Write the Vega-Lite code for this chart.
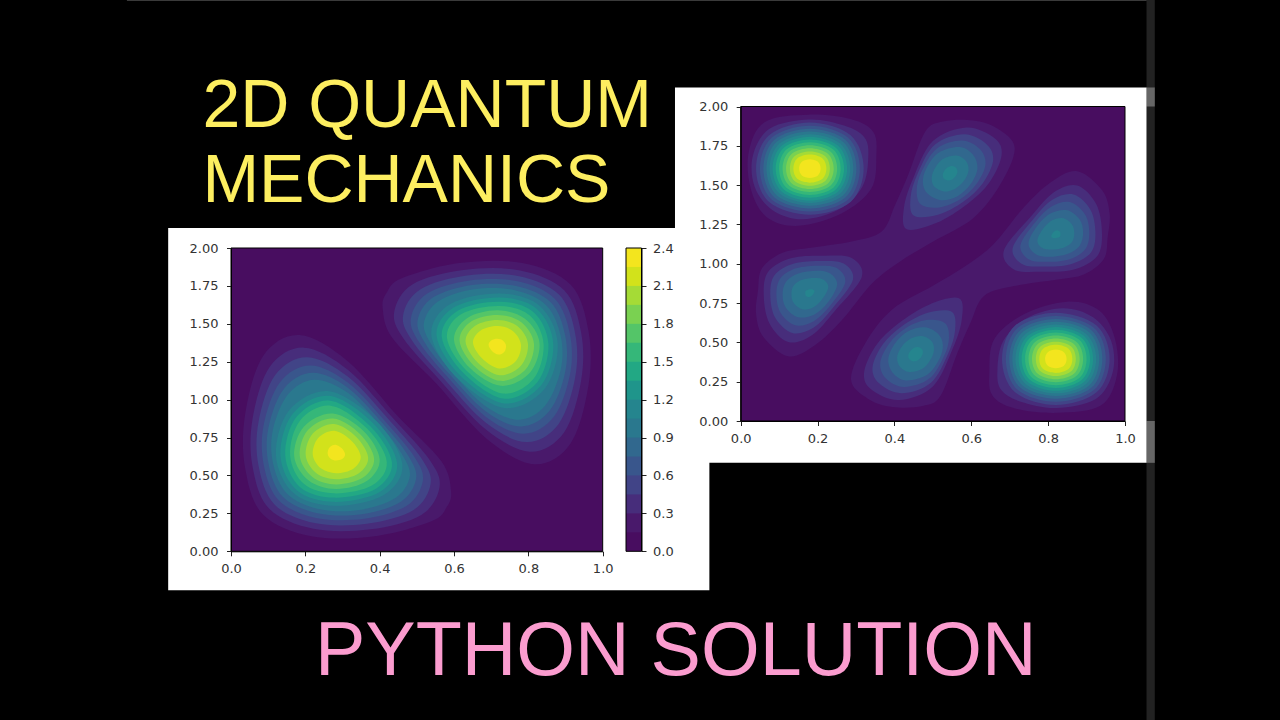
{"$schema":"https://vega.github.io/schema/vega-lite/v6.json","width":1280,"height":720,"autosize":"none","padding":0,"background":"#000",
"config":{"view":{"stroke":null},"axis":{"labelFont":"DejaVu Sans","labelFontSize":13,"labelColor":"#333","tickColor":"#222","domainColor":"#000","tickSize":4.5,"labelFlush":false,"labelOverlap":false,"grid":false,"title":null}},
"resolve":{"scale":{"x":"independent","y":"independent"},"axis":{"x":"independent","y":"independent"}},
"datasets":{
"colorbar":[{"x0":0,"x1":1,"lo":0,"hi":0.16,"l":0},{"x0":0,"x1":1,"lo":0.15,"hi":0.31,"l":1},{"x0":0,"x1":1,"lo":0.3,"hi":0.46,"l":2},{"x0":0,"x1":1,"lo":0.45,"hi":0.61,"l":3},{"x0":0,"x1":1,"lo":0.6,"hi":0.76,"l":4},{"x0":0,"x1":1,"lo":0.75,"hi":0.91,"l":5},{"x0":0,"x1":1,"lo":0.9,"hi":1.06,"l":6},{"x0":0,"x1":1,"lo":1.05,"hi":1.21,"l":7},{"x0":0,"x1":1,"lo":1.2,"hi":1.36,"l":8},{"x0":0,"x1":1,"lo":1.35,"hi":1.51,"l":9},{"x0":0,"x1":1,"lo":1.5,"hi":1.66,"l":10},{"x0":0,"x1":1,"lo":1.65,"hi":1.81,"l":11},{"x0":0,"x1":1,"lo":1.8,"hi":1.96,"l":12},{"x0":0,"x1":1,"lo":1.95,"hi":2.11,"l":13},{"x0":0,"x1":1,"lo":2.1,"hi":2.26,"l":14},{"x0":0,"x1":1,"lo":2.25,"hi":2.4,"l":15}],
"left":[
{"c":1,"l":1,"x":0.592,"y":0.396},{"c":1,"l":1,"x":0.566,"y":0.594},{"c":1,"l":1,"x":0.449,"y":0.891},{"c":1,"l":1,"x":0.314,"y":1.254},{"c":1,"l":1,"x":0.184,"y":1.426},{"c":1,"l":1,"x":0.086,"y":1.287},{"c":1,"l":1,"x":0.038,"y":0.902},{"c":1,"l":1,"x":0.038,"y":0.55},{"c":1,"l":1,"x":0.086,"y":0.242},{"c":1,"l":1,"x":0.216,"y":0.099},{"c":1,"l":1,"x":0.386,"y":0.099},{"c":1,"l":1,"x":0.539,"y":0.198},{"c":1,"l":1,"x":0.58,"y":0.29},
{"c":2,"l":2,"x":0.561,"y":0.424},{"c":2,"l":2,"x":0.535,"y":0.6},{"c":2,"l":2,"x":0.438,"y":0.872},{"c":2,"l":2,"x":0.315,"y":1.196},{"c":2,"l":2,"x":0.196,"y":1.343},{"c":2,"l":2,"x":0.104,"y":1.216},{"c":2,"l":2,"x":0.058,"y":0.874},{"c":2,"l":2,"x":0.058,"y":0.558},{"c":2,"l":2,"x":0.103,"y":0.28},{"c":2,"l":2,"x":0.222,"y":0.148},{"c":2,"l":2,"x":0.375,"y":0.145},{"c":2,"l":2,"x":0.512,"y":0.24},
{"c":3,"l":3,"x":0.537,"y":0.445},{"c":3,"l":3,"x":0.513,"y":0.61},{"c":3,"l":3,"x":0.429,"y":0.856},{"c":3,"l":3,"x":0.315,"y":1.151},{"c":3,"l":3,"x":0.205,"y":1.28},{"c":3,"l":3,"x":0.119,"y":1.162},{"c":3,"l":3,"x":0.074,"y":0.853},{"c":3,"l":3,"x":0.074,"y":0.565},{"c":3,"l":3,"x":0.117,"y":0.309},{"c":3,"l":3,"x":0.225,"y":0.186},{"c":3,"l":3,"x":0.365,"y":0.182},{"c":3,"l":3,"x":0.491,"y":0.273},
{"c":4,"l":4,"x":0.516,"y":0.464},{"c":4,"l":4,"x":0.494,"y":0.62},{"c":4,"l":4,"x":0.42,"y":0.843},{"c":4,"l":4,"x":0.315,"y":1.112},{"c":4,"l":4,"x":0.213,"y":1.225},{"c":4,"l":4,"x":0.132,"y":1.115},{"c":4,"l":4,"x":0.088,"y":0.834},{"c":4,"l":4,"x":0.088,"y":0.571},{"c":4,"l":4,"x":0.129,"y":0.335},{"c":4,"l":4,"x":0.229,"y":0.22},{"c":4,"l":4,"x":0.358,"y":0.214},{"c":4,"l":4,"x":0.473,"y":0.301},
{"c":5,"l":5,"x":0.498,"y":0.48},{"c":5,"l":5,"x":0.477,"y":0.63},{"c":5,"l":5,"x":0.413,"y":0.83},{"c":5,"l":5,"x":0.315,"y":1.077},{"c":5,"l":5,"x":0.22,"y":1.177},{"c":5,"l":5,"x":0.143,"y":1.074},{"c":5,"l":5,"x":0.101,"y":0.818},{"c":5,"l":5,"x":0.101,"y":0.576},{"c":5,"l":5,"x":0.14,"y":0.358},{"c":5,"l":5,"x":0.233,"y":0.251},{"c":5,"l":5,"x":0.351,"y":0.244},{"c":5,"l":5,"x":0.457,"y":0.327},
{"c":6,"l":6,"x":0.481,"y":0.495},{"c":6,"l":6,"x":0.46,"y":0.64},{"c":6,"l":6,"x":0.406,"y":0.818},{"c":6,"l":6,"x":0.315,"y":1.044},{"c":6,"l":6,"x":0.225,"y":1.132},{"c":6,"l":6,"x":0.154,"y":1.037},{"c":6,"l":6,"x":0.113,"y":0.803},{"c":6,"l":6,"x":0.113,"y":0.581},{"c":6,"l":6,"x":0.151,"y":0.38},{"c":6,"l":6,"x":0.236,"y":0.279},{"c":6,"l":6,"x":0.345,"y":0.272},{"c":6,"l":6,"x":0.442,"y":0.351},
{"c":7,"l":7,"x":0.461,"y":0.573},{"c":7,"l":7,"x":0.391,"y":0.859},{"c":7,"l":7,"x":0.264,"y":1.055},{"c":7,"l":7,"x":0.156,"y":0.928},{"c":7,"l":7,"x":0.121,"y":0.63},{"c":7,"l":7,"x":0.169,"y":0.382},{"c":7,"l":7,"x":0.277,"y":0.3},{"c":7,"l":7,"x":0.41,"y":0.37},
{"c":8,"l":8,"x":0.447,"y":0.579},{"c":8,"l":8,"x":0.383,"y":0.843},{"c":8,"l":8,"x":0.265,"y":1.025},{"c":8,"l":8,"x":0.166,"y":0.907},{"c":8,"l":8,"x":0.133,"y":0.631},{"c":8,"l":8,"x":0.177,"y":0.402},{"c":8,"l":8,"x":0.277,"y":0.326},{"c":8,"l":8,"x":0.4,"y":0.391},
{"c":9,"l":9,"x":0.433,"y":0.585},{"c":9,"l":9,"x":0.374,"y":0.826},{"c":9,"l":9,"x":0.267,"y":0.993},{"c":9,"l":9,"x":0.176,"y":0.885},{"c":9,"l":9,"x":0.146,"y":0.633},{"c":9,"l":9,"x":0.186,"y":0.423},{"c":9,"l":9,"x":0.278,"y":0.354},{"c":9,"l":9,"x":0.39,"y":0.413},
{"c":10,"l":10,"x":0.419,"y":0.591},{"c":10,"l":10,"x":0.366,"y":0.809},{"c":10,"l":10,"x":0.268,"y":0.96},{"c":10,"l":10,"x":0.186,"y":0.863},{"c":10,"l":10,"x":0.159,"y":0.634},{"c":10,"l":10,"x":0.196,"y":0.445},{"c":10,"l":10,"x":0.278,"y":0.382},{"c":10,"l":10,"x":0.38,"y":0.435},
{"c":11,"l":11,"x":0.4,"y":0.606},{"c":11,"l":11,"x":0.357,"y":0.792},{"c":11,"l":11,"x":0.274,"y":0.909},{"c":11,"l":11,"x":0.196,"y":0.822},{"c":11,"l":11,"x":0.17,"y":0.627},{"c":11,"l":11,"x":0.209,"y":0.467},{"c":11,"l":11,"x":0.283,"y":0.411},{"c":11,"l":11,"x":0.365,"y":0.463},
{"c":12,"l":12,"x":0.385,"y":0.611},{"c":12,"l":12,"x":0.347,"y":0.774},{"c":12,"l":12,"x":0.275,"y":0.876},{"c":12,"l":12,"x":0.207,"y":0.8},{"c":12,"l":12,"x":0.185,"y":0.63},{"c":12,"l":12,"x":0.219,"y":0.49},{"c":12,"l":12,"x":0.283,"y":0.441},{"c":12,"l":12,"x":0.355,"y":0.486},
{"c":13,"l":13,"x":0.369,"y":0.617},{"c":13,"l":13,"x":0.337,"y":0.754},{"c":13,"l":13,"x":0.277,"y":0.839},{"c":13,"l":13,"x":0.22,"y":0.776},{"c":13,"l":13,"x":0.201,"y":0.633},{"c":13,"l":13,"x":0.229,"y":0.516},{"c":13,"l":13,"x":0.283,"y":0.475},{"c":13,"l":13,"x":0.343,"y":0.513},
{"c":14,"l":14,"x":0.349,"y":0.625},{"c":14,"l":14,"x":0.324,"y":0.729},{"c":14,"l":14,"x":0.278,"y":0.795},{"c":14,"l":14,"x":0.234,"y":0.746},{"c":14,"l":14,"x":0.22,"y":0.637},{"c":14,"l":14,"x":0.242,"y":0.547},{"c":14,"l":14,"x":0.283,"y":0.515},{"c":14,"l":14,"x":0.329,"y":0.545},
{"c":15,"l":15,"x":0.307,"y":0.64},{"c":15,"l":15,"x":0.298,"y":0.679},{"c":15,"l":15,"x":0.281,"y":0.703},{"c":15,"l":15,"x":0.265,"y":0.685},{"c":15,"l":15,"x":0.26,"y":0.644},{"c":15,"l":15,"x":0.268,"y":0.611},{"c":15,"l":15,"x":0.283,"y":0.599},{"c":15,"l":15,"x":0.3,"y":0.61},
{"c":16,"l":1,"x":0.408,"y":1.604},{"c":16,"l":1,"x":0.434,"y":1.406},{"c":16,"l":1,"x":0.551,"y":1.109},{"c":16,"l":1,"x":0.686,"y":0.746},{"c":16,"l":1,"x":0.816,"y":0.574},{"c":16,"l":1,"x":0.914,"y":0.713},{"c":16,"l":1,"x":0.962,"y":1.098},{"c":16,"l":1,"x":0.962,"y":1.45},{"c":16,"l":1,"x":0.914,"y":1.758},{"c":16,"l":1,"x":0.784,"y":1.901},{"c":16,"l":1,"x":0.614,"y":1.901},{"c":16,"l":1,"x":0.461,"y":1.802},{"c":16,"l":1,"x":0.42,"y":1.71},
{"c":17,"l":2,"x":0.439,"y":1.576},{"c":17,"l":2,"x":0.465,"y":1.4},{"c":17,"l":2,"x":0.562,"y":1.128},{"c":17,"l":2,"x":0.685,"y":0.804},{"c":17,"l":2,"x":0.804,"y":0.657},{"c":17,"l":2,"x":0.896,"y":0.784},{"c":17,"l":2,"x":0.942,"y":1.126},{"c":17,"l":2,"x":0.942,"y":1.442},{"c":17,"l":2,"x":0.897,"y":1.72},{"c":17,"l":2,"x":0.778,"y":1.852},{"c":17,"l":2,"x":0.625,"y":1.855},{"c":17,"l":2,"x":0.488,"y":1.76},
{"c":18,"l":3,"x":0.463,"y":1.555},{"c":18,"l":3,"x":0.487,"y":1.39},{"c":18,"l":3,"x":0.571,"y":1.144},{"c":18,"l":3,"x":0.685,"y":0.849},{"c":18,"l":3,"x":0.795,"y":0.72},{"c":18,"l":3,"x":0.881,"y":0.838},{"c":18,"l":3,"x":0.926,"y":1.147},{"c":18,"l":3,"x":0.926,"y":1.435},{"c":18,"l":3,"x":0.883,"y":1.691},{"c":18,"l":3,"x":0.775,"y":1.814},{"c":18,"l":3,"x":0.635,"y":1.818},{"c":18,"l":3,"x":0.509,"y":1.727},
{"c":19,"l":4,"x":0.484,"y":1.536},{"c":19,"l":4,"x":0.506,"y":1.38},{"c":19,"l":4,"x":0.58,"y":1.157},{"c":19,"l":4,"x":0.685,"y":0.888},{"c":19,"l":4,"x":0.787,"y":0.775},{"c":19,"l":4,"x":0.868,"y":0.885},{"c":19,"l":4,"x":0.912,"y":1.166},{"c":19,"l":4,"x":0.912,"y":1.429},{"c":19,"l":4,"x":0.871,"y":1.665},{"c":19,"l":4,"x":0.771,"y":1.78},{"c":19,"l":4,"x":0.642,"y":1.786},{"c":19,"l":4,"x":0.527,"y":1.699},
{"c":20,"l":5,"x":0.502,"y":1.52},{"c":20,"l":5,"x":0.523,"y":1.37},{"c":20,"l":5,"x":0.587,"y":1.17},{"c":20,"l":5,"x":0.685,"y":0.923},{"c":20,"l":5,"x":0.78,"y":0.823},{"c":20,"l":5,"x":0.857,"y":0.926},{"c":20,"l":5,"x":0.899,"y":1.182},{"c":20,"l":5,"x":0.899,"y":1.424},{"c":20,"l":5,"x":0.86,"y":1.642},{"c":20,"l":5,"x":0.767,"y":1.749},{"c":20,"l":5,"x":0.649,"y":1.756},{"c":20,"l":5,"x":0.543,"y":1.673},
{"c":21,"l":6,"x":0.519,"y":1.505},{"c":21,"l":6,"x":0.54,"y":1.36},{"c":21,"l":6,"x":0.594,"y":1.182},{"c":21,"l":6,"x":0.685,"y":0.956},{"c":21,"l":6,"x":0.775,"y":0.868},{"c":21,"l":6,"x":0.846,"y":0.963},{"c":21,"l":6,"x":0.887,"y":1.197},{"c":21,"l":6,"x":0.887,"y":1.419},{"c":21,"l":6,"x":0.849,"y":1.62},{"c":21,"l":6,"x":0.764,"y":1.721},{"c":21,"l":6,"x":0.655,"y":1.728},{"c":21,"l":6,"x":0.558,"y":1.649},
{"c":22,"l":7,"x":0.539,"y":1.427},{"c":22,"l":7,"x":0.609,"y":1.141},{"c":22,"l":7,"x":0.736,"y":0.945},{"c":22,"l":7,"x":0.844,"y":1.072},{"c":22,"l":7,"x":0.879,"y":1.37},{"c":22,"l":7,"x":0.831,"y":1.618},{"c":22,"l":7,"x":0.723,"y":1.7},{"c":22,"l":7,"x":0.59,"y":1.63},
{"c":23,"l":8,"x":0.553,"y":1.421},{"c":23,"l":8,"x":0.617,"y":1.157},{"c":23,"l":8,"x":0.735,"y":0.975},{"c":23,"l":8,"x":0.834,"y":1.093},{"c":23,"l":8,"x":0.867,"y":1.369},{"c":23,"l":8,"x":0.823,"y":1.598},{"c":23,"l":8,"x":0.723,"y":1.674},{"c":23,"l":8,"x":0.6,"y":1.609},
{"c":24,"l":9,"x":0.567,"y":1.415},{"c":24,"l":9,"x":0.626,"y":1.174},{"c":24,"l":9,"x":0.733,"y":1.007},{"c":24,"l":9,"x":0.824,"y":1.115},{"c":24,"l":9,"x":0.854,"y":1.367},{"c":24,"l":9,"x":0.814,"y":1.577},{"c":24,"l":9,"x":0.722,"y":1.646},{"c":24,"l":9,"x":0.61,"y":1.587},
{"c":25,"l":10,"x":0.581,"y":1.409},{"c":25,"l":10,"x":0.634,"y":1.191},{"c":25,"l":10,"x":0.732,"y":1.04},{"c":25,"l":10,"x":0.814,"y":1.137},{"c":25,"l":10,"x":0.841,"y":1.366},{"c":25,"l":10,"x":0.804,"y":1.555},{"c":25,"l":10,"x":0.722,"y":1.618},{"c":25,"l":10,"x":0.62,"y":1.565},
{"c":26,"l":11,"x":0.6,"y":1.394},{"c":26,"l":11,"x":0.643,"y":1.208},{"c":26,"l":11,"x":0.726,"y":1.091},{"c":26,"l":11,"x":0.804,"y":1.178},{"c":26,"l":11,"x":0.83,"y":1.373},{"c":26,"l":11,"x":0.791,"y":1.533},{"c":26,"l":11,"x":0.717,"y":1.589},{"c":26,"l":11,"x":0.635,"y":1.537},
{"c":27,"l":12,"x":0.615,"y":1.389},{"c":27,"l":12,"x":0.653,"y":1.226},{"c":27,"l":12,"x":0.725,"y":1.124},{"c":27,"l":12,"x":0.793,"y":1.2},{"c":27,"l":12,"x":0.815,"y":1.37},{"c":27,"l":12,"x":0.781,"y":1.51},{"c":27,"l":12,"x":0.717,"y":1.559},{"c":27,"l":12,"x":0.645,"y":1.514},
{"c":28,"l":13,"x":0.631,"y":1.383},{"c":28,"l":13,"x":0.663,"y":1.246},{"c":28,"l":13,"x":0.723,"y":1.161},{"c":28,"l":13,"x":0.78,"y":1.224},{"c":28,"l":13,"x":0.799,"y":1.367},{"c":28,"l":13,"x":0.771,"y":1.484},{"c":28,"l":13,"x":0.717,"y":1.525},{"c":28,"l":13,"x":0.657,"y":1.487},
{"c":29,"l":14,"x":0.651,"y":1.375},{"c":29,"l":14,"x":0.676,"y":1.271},{"c":29,"l":14,"x":0.722,"y":1.205},{"c":29,"l":14,"x":0.766,"y":1.254},{"c":29,"l":14,"x":0.78,"y":1.363},{"c":29,"l":14,"x":0.758,"y":1.453},{"c":29,"l":14,"x":0.717,"y":1.485},{"c":29,"l":14,"x":0.671,"y":1.455},
{"c":30,"l":15,"x":0.693,"y":1.36},{"c":30,"l":15,"x":0.702,"y":1.321},{"c":30,"l":15,"x":0.719,"y":1.297},{"c":30,"l":15,"x":0.735,"y":1.315},{"c":30,"l":15,"x":0.74,"y":1.356},{"c":30,"l":15,"x":0.732,"y":1.389},{"c":30,"l":15,"x":0.717,"y":1.401},{"c":30,"l":15,"x":0.7,"y":1.39}
],
"right":[
{"c":1,"l":1,"x":0.353,"y":1.69},{"c":1,"l":1,"x":0.34,"y":1.478},{"c":1,"l":1,"x":0.262,"y":1.319},{"c":1,"l":1,"x":0.15,"y":1.241},{"c":1,"l":1,"x":0.067,"y":1.298},{"c":1,"l":1,"x":0.026,"y":1.478},{"c":1,"l":1,"x":0.021,"y":1.711},{"c":1,"l":1,"x":0.063,"y":1.902},{"c":1,"l":1,"x":0.176,"y":1.948},{"c":1,"l":1,"x":0.288,"y":1.919},{"c":1,"l":1,"x":0.345,"y":1.838},
{"c":2,"l":2,"x":0.332,"y":1.68},{"c":2,"l":2,"x":0.317,"y":1.492},{"c":2,"l":2,"x":0.256,"y":1.346},{"c":2,"l":2,"x":0.162,"y":1.283},{"c":2,"l":2,"x":0.083,"y":1.341},{"c":2,"l":2,"x":0.036,"y":1.492},{"c":2,"l":2,"x":0.032,"y":1.69},{"c":2,"l":2,"x":0.076,"y":1.86},{"c":2,"l":2,"x":0.178,"y":1.917},{"c":2,"l":2,"x":0.271,"y":1.877},{"c":2,"l":2,"x":0.322,"y":1.803},
{"c":3,"l":3,"x":0.32,"y":1.605},{"c":3,"l":3,"x":0.286,"y":1.393},{"c":3,"l":3,"x":0.18,"y":1.312},{"c":3,"l":3,"x":0.074,"y":1.393},{"c":3,"l":3,"x":0.04,"y":1.605},{"c":3,"l":3,"x":0.074,"y":1.817},{"c":3,"l":3,"x":0.18,"y":1.898},{"c":3,"l":3,"x":0.286,"y":1.817},
{"c":4,"l":4,"x":0.31,"y":1.605},{"c":4,"l":4,"x":0.279,"y":1.407},{"c":4,"l":4,"x":0.18,"y":1.332},{"c":4,"l":4,"x":0.081,"y":1.407},{"c":4,"l":4,"x":0.05,"y":1.605},{"c":4,"l":4,"x":0.081,"y":1.803},{"c":4,"l":4,"x":0.18,"y":1.878},{"c":4,"l":4,"x":0.279,"y":1.803},
{"c":5,"l":5,"x":0.301,"y":1.605},{"c":5,"l":5,"x":0.272,"y":1.421},{"c":5,"l":5,"x":0.18,"y":1.351},{"c":5,"l":5,"x":0.088,"y":1.421},{"c":5,"l":5,"x":0.059,"y":1.605},{"c":5,"l":5,"x":0.088,"y":1.789},{"c":5,"l":5,"x":0.18,"y":1.859},{"c":5,"l":5,"x":0.272,"y":1.789},
{"c":6,"l":6,"x":0.293,"y":1.605},{"c":6,"l":6,"x":0.266,"y":1.434},{"c":6,"l":6,"x":0.18,"y":1.369},{"c":6,"l":6,"x":0.094,"y":1.434},{"c":6,"l":6,"x":0.067,"y":1.605},{"c":6,"l":6,"x":0.094,"y":1.776},{"c":6,"l":6,"x":0.18,"y":1.841},{"c":6,"l":6,"x":0.266,"y":1.776},
{"c":7,"l":7,"x":0.285,"y":1.605},{"c":7,"l":7,"x":0.259,"y":1.446},{"c":7,"l":7,"x":0.18,"y":1.386},{"c":7,"l":7,"x":0.101,"y":1.446},{"c":7,"l":7,"x":0.075,"y":1.605},{"c":7,"l":7,"x":0.101,"y":1.764},{"c":7,"l":7,"x":0.18,"y":1.824},{"c":7,"l":7,"x":0.259,"y":1.764},
{"c":8,"l":8,"x":0.277,"y":1.605},{"c":8,"l":8,"x":0.253,"y":1.458},{"c":8,"l":8,"x":0.18,"y":1.402},{"c":8,"l":8,"x":0.107,"y":1.458},{"c":8,"l":8,"x":0.083,"y":1.605},{"c":8,"l":8,"x":0.107,"y":1.752},{"c":8,"l":8,"x":0.18,"y":1.808},{"c":8,"l":8,"x":0.253,"y":1.752},
{"c":9,"l":9,"x":0.269,"y":1.605},{"c":9,"l":9,"x":0.247,"y":1.471},{"c":9,"l":9,"x":0.18,"y":1.42},{"c":9,"l":9,"x":0.113,"y":1.471},{"c":9,"l":9,"x":0.091,"y":1.605},{"c":9,"l":9,"x":0.113,"y":1.739},{"c":9,"l":9,"x":0.18,"y":1.79},{"c":9,"l":9,"x":0.247,"y":1.739},
{"c":10,"l":10,"x":0.26,"y":1.605},{"c":10,"l":10,"x":0.241,"y":1.483},{"c":10,"l":10,"x":0.18,"y":1.437},{"c":10,"l":10,"x":0.119,"y":1.483},{"c":10,"l":10,"x":0.1,"y":1.605},{"c":10,"l":10,"x":0.119,"y":1.727},{"c":10,"l":10,"x":0.18,"y":1.773},{"c":10,"l":10,"x":0.241,"y":1.727},
{"c":11,"l":11,"x":0.251,"y":1.605},{"c":11,"l":11,"x":0.234,"y":1.497},{"c":11,"l":11,"x":0.18,"y":1.456},{"c":11,"l":11,"x":0.126,"y":1.497},{"c":11,"l":11,"x":0.109,"y":1.605},{"c":11,"l":11,"x":0.126,"y":1.713},{"c":11,"l":11,"x":0.18,"y":1.754},{"c":11,"l":11,"x":0.234,"y":1.713},
{"c":12,"l":12,"x":0.242,"y":1.605},{"c":12,"l":12,"x":0.227,"y":1.51},{"c":12,"l":12,"x":0.18,"y":1.475},{"c":12,"l":12,"x":0.133,"y":1.51},{"c":12,"l":12,"x":0.118,"y":1.605},{"c":12,"l":12,"x":0.133,"y":1.7},{"c":12,"l":12,"x":0.18,"y":1.735},{"c":12,"l":12,"x":0.227,"y":1.7},
{"c":13,"l":13,"x":0.232,"y":1.605},{"c":13,"l":13,"x":0.22,"y":1.526},{"c":13,"l":13,"x":0.18,"y":1.496},{"c":13,"l":13,"x":0.14,"y":1.526},{"c":13,"l":13,"x":0.128,"y":1.605},{"c":13,"l":13,"x":0.14,"y":1.684},{"c":13,"l":13,"x":0.18,"y":1.714},{"c":13,"l":13,"x":0.22,"y":1.684},
{"c":14,"l":14,"x":0.223,"y":1.605},{"c":14,"l":14,"x":0.213,"y":1.54},{"c":14,"l":14,"x":0.18,"y":1.515},{"c":14,"l":14,"x":0.147,"y":1.54},{"c":14,"l":14,"x":0.137,"y":1.605},{"c":14,"l":14,"x":0.147,"y":1.67},{"c":14,"l":14,"x":0.18,"y":1.695},{"c":14,"l":14,"x":0.213,"y":1.67},
{"c":15,"l":15,"x":0.208,"y":1.605},{"c":15,"l":15,"x":0.201,"y":1.562},{"c":15,"l":15,"x":0.18,"y":1.546},{"c":15,"l":15,"x":0.159,"y":1.562},{"c":15,"l":15,"x":0.152,"y":1.605},{"c":15,"l":15,"x":0.159,"y":1.648},{"c":15,"l":15,"x":0.18,"y":1.664},{"c":15,"l":15,"x":0.201,"y":1.648},
{"c":16,"l":1,"x":0.647,"y":0.31},{"c":16,"l":1,"x":0.66,"y":0.522},{"c":16,"l":1,"x":0.738,"y":0.681},{"c":16,"l":1,"x":0.85,"y":0.759},{"c":16,"l":1,"x":0.933,"y":0.702},{"c":16,"l":1,"x":0.974,"y":0.522},{"c":16,"l":1,"x":0.979,"y":0.289},{"c":16,"l":1,"x":0.937,"y":0.098},{"c":16,"l":1,"x":0.824,"y":0.052},{"c":16,"l":1,"x":0.712,"y":0.081},{"c":16,"l":1,"x":0.655,"y":0.162},
{"c":17,"l":2,"x":0.668,"y":0.32},{"c":17,"l":2,"x":0.683,"y":0.508},{"c":17,"l":2,"x":0.744,"y":0.654},{"c":17,"l":2,"x":0.838,"y":0.717},{"c":17,"l":2,"x":0.917,"y":0.659},{"c":17,"l":2,"x":0.964,"y":0.508},{"c":17,"l":2,"x":0.968,"y":0.31},{"c":17,"l":2,"x":0.924,"y":0.14},{"c":17,"l":2,"x":0.822,"y":0.083},{"c":17,"l":2,"x":0.729,"y":0.123},{"c":17,"l":2,"x":0.678,"y":0.197},
{"c":18,"l":3,"x":0.68,"y":0.395},{"c":18,"l":3,"x":0.714,"y":0.607},{"c":18,"l":3,"x":0.82,"y":0.688},{"c":18,"l":3,"x":0.926,"y":0.607},{"c":18,"l":3,"x":0.96,"y":0.395},{"c":18,"l":3,"x":0.926,"y":0.183},{"c":18,"l":3,"x":0.82,"y":0.102},{"c":18,"l":3,"x":0.714,"y":0.183},
{"c":19,"l":4,"x":0.69,"y":0.395},{"c":19,"l":4,"x":0.721,"y":0.593},{"c":19,"l":4,"x":0.82,"y":0.668},{"c":19,"l":4,"x":0.919,"y":0.593},{"c":19,"l":4,"x":0.95,"y":0.395},{"c":19,"l":4,"x":0.919,"y":0.197},{"c":19,"l":4,"x":0.82,"y":0.122},{"c":19,"l":4,"x":0.721,"y":0.197},
{"c":20,"l":5,"x":0.699,"y":0.395},{"c":20,"l":5,"x":0.728,"y":0.579},{"c":20,"l":5,"x":0.82,"y":0.649},{"c":20,"l":5,"x":0.912,"y":0.579},{"c":20,"l":5,"x":0.941,"y":0.395},{"c":20,"l":5,"x":0.912,"y":0.211},{"c":20,"l":5,"x":0.82,"y":0.141},{"c":20,"l":5,"x":0.728,"y":0.211},
{"c":21,"l":6,"x":0.707,"y":0.395},{"c":21,"l":6,"x":0.734,"y":0.566},{"c":21,"l":6,"x":0.82,"y":0.631},{"c":21,"l":6,"x":0.906,"y":0.566},{"c":21,"l":6,"x":0.933,"y":0.395},{"c":21,"l":6,"x":0.906,"y":0.224},{"c":21,"l":6,"x":0.82,"y":0.159},{"c":21,"l":6,"x":0.734,"y":0.224},
{"c":22,"l":7,"x":0.715,"y":0.395},{"c":22,"l":7,"x":0.741,"y":0.554},{"c":22,"l":7,"x":0.82,"y":0.614},{"c":22,"l":7,"x":0.899,"y":0.554},{"c":22,"l":7,"x":0.925,"y":0.395},{"c":22,"l":7,"x":0.899,"y":0.236},{"c":22,"l":7,"x":0.82,"y":0.176},{"c":22,"l":7,"x":0.741,"y":0.236},
{"c":23,"l":8,"x":0.723,"y":0.395},{"c":23,"l":8,"x":0.747,"y":0.542},{"c":23,"l":8,"x":0.82,"y":0.598},{"c":23,"l":8,"x":0.893,"y":0.542},{"c":23,"l":8,"x":0.917,"y":0.395},{"c":23,"l":8,"x":0.893,"y":0.248},{"c":23,"l":8,"x":0.82,"y":0.192},{"c":23,"l":8,"x":0.747,"y":0.248},
{"c":24,"l":9,"x":0.731,"y":0.395},{"c":24,"l":9,"x":0.753,"y":0.529},{"c":24,"l":9,"x":0.82,"y":0.58},{"c":24,"l":9,"x":0.887,"y":0.529},{"c":24,"l":9,"x":0.909,"y":0.395},{"c":24,"l":9,"x":0.887,"y":0.261},{"c":24,"l":9,"x":0.82,"y":0.21},{"c":24,"l":9,"x":0.753,"y":0.261},
{"c":25,"l":10,"x":0.74,"y":0.395},{"c":25,"l":10,"x":0.759,"y":0.517},{"c":25,"l":10,"x":0.82,"y":0.563},{"c":25,"l":10,"x":0.881,"y":0.517},{"c":25,"l":10,"x":0.9,"y":0.395},{"c":25,"l":10,"x":0.881,"y":0.273},{"c":25,"l":10,"x":0.82,"y":0.227},{"c":25,"l":10,"x":0.759,"y":0.273},
{"c":26,"l":11,"x":0.749,"y":0.395},{"c":26,"l":11,"x":0.766,"y":0.503},{"c":26,"l":11,"x":0.82,"y":0.544},{"c":26,"l":11,"x":0.874,"y":0.503},{"c":26,"l":11,"x":0.891,"y":0.395},{"c":26,"l":11,"x":0.874,"y":0.287},{"c":26,"l":11,"x":0.82,"y":0.246},{"c":26,"l":11,"x":0.766,"y":0.287},
{"c":27,"l":12,"x":0.758,"y":0.395},{"c":27,"l":12,"x":0.773,"y":0.49},{"c":27,"l":12,"x":0.82,"y":0.525},{"c":27,"l":12,"x":0.867,"y":0.49},{"c":27,"l":12,"x":0.882,"y":0.395},{"c":27,"l":12,"x":0.867,"y":0.3},{"c":27,"l":12,"x":0.82,"y":0.265},{"c":27,"l":12,"x":0.773,"y":0.3},
{"c":28,"l":13,"x":0.768,"y":0.395},{"c":28,"l":13,"x":0.78,"y":0.474},{"c":28,"l":13,"x":0.82,"y":0.504},{"c":28,"l":13,"x":0.86,"y":0.474},{"c":28,"l":13,"x":0.872,"y":0.395},{"c":28,"l":13,"x":0.86,"y":0.316},{"c":28,"l":13,"x":0.82,"y":0.286},{"c":28,"l":13,"x":0.78,"y":0.316},
{"c":29,"l":14,"x":0.777,"y":0.395},{"c":29,"l":14,"x":0.787,"y":0.46},{"c":29,"l":14,"x":0.82,"y":0.485},{"c":29,"l":14,"x":0.853,"y":0.46},{"c":29,"l":14,"x":0.863,"y":0.395},{"c":29,"l":14,"x":0.853,"y":0.33},{"c":29,"l":14,"x":0.82,"y":0.305},{"c":29,"l":14,"x":0.787,"y":0.33},
{"c":30,"l":15,"x":0.792,"y":0.395},{"c":30,"l":15,"x":0.799,"y":0.438},{"c":30,"l":15,"x":0.82,"y":0.454},{"c":30,"l":15,"x":0.841,"y":0.438},{"c":30,"l":15,"x":0.848,"y":0.395},{"c":30,"l":15,"x":0.841,"y":0.352},{"c":30,"l":15,"x":0.82,"y":0.336},{"c":30,"l":15,"x":0.799,"y":0.352},
{"c":31,"l":1,"x":0.605,"y":1.911},{"c":31,"l":1,"x":0.668,"y":1.86},{"c":31,"l":1,"x":0.713,"y":1.735},{"c":31,"l":1,"x":0.675,"y":1.502},{"c":31,"l":1,"x":0.605,"y":1.29},{"c":31,"l":1,"x":0.501,"y":1.142},{"c":31,"l":1,"x":0.415,"y":1.015},{"c":31,"l":1,"x":0.341,"y":0.873},{"c":31,"l":1,"x":0.263,"y":0.64},{"c":31,"l":1,"x":0.193,"y":0.481},{"c":31,"l":1,"x":0.124,"y":0.411},{"c":31,"l":1,"x":0.059,"y":0.534},{"c":31,"l":1,"x":0.04,"y":0.682},{"c":31,"l":1,"x":0.045,"y":0.83},{"c":31,"l":1,"x":0.055,"y":0.97},{"c":31,"l":1,"x":0.107,"y":1.068},{"c":31,"l":1,"x":0.176,"y":1.1},{"c":31,"l":1,"x":0.289,"y":1.142},{"c":31,"l":1,"x":0.367,"y":1.205},{"c":31,"l":1,"x":0.402,"y":1.375},{"c":31,"l":1,"x":0.436,"y":1.566},{"c":31,"l":1,"x":0.48,"y":1.84},{"c":31,"l":1,"x":0.527,"y":1.905},
{"c":32,"l":2,"x":0.588,"y":1.867},{"c":32,"l":2,"x":0.66,"y":1.8},{"c":32,"l":2,"x":0.679,"y":1.693},{"c":32,"l":2,"x":0.648,"y":1.52},{"c":32,"l":2,"x":0.59,"y":1.38},{"c":32,"l":2,"x":0.51,"y":1.26},{"c":32,"l":2,"x":0.432,"y":1.22},{"c":32,"l":2,"x":0.425,"y":1.36},{"c":32,"l":2,"x":0.449,"y":1.544},{"c":32,"l":2,"x":0.5,"y":1.78},
{"c":33,"l":3,"x":0.581,"y":1.823},{"c":33,"l":3,"x":0.639,"y":1.762},{"c":33,"l":3,"x":0.657,"y":1.659},{"c":33,"l":3,"x":0.63,"y":1.512},{"c":33,"l":3,"x":0.579,"y":1.394},{"c":33,"l":3,"x":0.513,"y":1.311},{"c":33,"l":3,"x":0.451,"y":1.305},{"c":33,"l":3,"x":0.442,"y":1.421},{"c":33,"l":3,"x":0.46,"y":1.57},{"c":33,"l":3,"x":0.505,"y":1.756},
{"c":34,"l":4,"x":0.575,"y":1.783},{"c":34,"l":4,"x":0.622,"y":1.729},{"c":34,"l":4,"x":0.637,"y":1.632},{"c":34,"l":4,"x":0.614,"y":1.508},{"c":34,"l":4,"x":0.571,"y":1.41},{"c":34,"l":4,"x":0.517,"y":1.358},{"c":34,"l":4,"x":0.469,"y":1.377},{"c":34,"l":4,"x":0.458,"y":1.47},{"c":34,"l":4,"x":0.471,"y":1.588},{"c":34,"l":4,"x":0.51,"y":1.732},
{"c":35,"l":5,"x":0.569,"y":1.742},{"c":35,"l":5,"x":0.604,"y":1.694},{"c":35,"l":5,"x":0.616,"y":1.606},{"c":35,"l":5,"x":0.598,"y":1.505},{"c":35,"l":5,"x":0.563,"y":1.428},{"c":35,"l":5,"x":0.521,"y":1.404},{"c":35,"l":5,"x":0.486,"y":1.446},{"c":35,"l":5,"x":0.474,"y":1.517},{"c":35,"l":5,"x":0.483,"y":1.606},{"c":35,"l":5,"x":0.515,"y":1.706},
{"c":36,"l":6,"x":0.561,"y":1.688},{"c":36,"l":6,"x":0.585,"y":1.656},{"c":36,"l":6,"x":0.593,"y":1.596},{"c":36,"l":6,"x":0.581,"y":1.528},{"c":36,"l":6,"x":0.557,"y":1.476},{"c":36,"l":6,"x":0.529,"y":1.46},{"c":36,"l":6,"x":0.505,"y":1.488},{"c":36,"l":6,"x":0.497,"y":1.536},{"c":36,"l":6,"x":0.503,"y":1.596},{"c":36,"l":6,"x":0.525,"y":1.664},
{"c":37,"l":7,"x":0.551,"y":1.621},{"c":37,"l":7,"x":0.561,"y":1.608},{"c":37,"l":7,"x":0.564,"y":1.584},{"c":37,"l":7,"x":0.559,"y":1.557},{"c":37,"l":7,"x":0.55,"y":1.536},{"c":37,"l":7,"x":0.539,"y":1.53},{"c":37,"l":7,"x":0.529,"y":1.541},{"c":37,"l":7,"x":0.526,"y":1.56},{"c":37,"l":7,"x":0.528,"y":1.584},{"c":37,"l":7,"x":0.537,"y":1.611},
{"c":38,"l":2,"x":0.289,"y":1.036},{"c":38,"l":2,"x":0.219,"y":1.051},{"c":38,"l":2,"x":0.133,"y":1.036},{"c":38,"l":2,"x":0.072,"y":0.95},{"c":38,"l":2,"x":0.06,"y":0.8},{"c":38,"l":2,"x":0.075,"y":0.62},{"c":38,"l":2,"x":0.124,"y":0.502},{"c":38,"l":2,"x":0.185,"y":0.545},{"c":38,"l":2,"x":0.245,"y":0.7},{"c":38,"l":2,"x":0.315,"y":0.915},
{"c":39,"l":3,"x":0.268,"y":1.001},{"c":39,"l":3,"x":0.211,"y":1.018},{"c":39,"l":3,"x":0.139,"y":1.001},{"c":39,"l":3,"x":0.088,"y":0.927},{"c":39,"l":3,"x":0.077,"y":0.8},{"c":39,"l":3,"x":0.09,"y":0.656},{"c":39,"l":3,"x":0.134,"y":0.56},{"c":39,"l":3,"x":0.189,"y":0.593},{"c":39,"l":3,"x":0.24,"y":0.72},{"c":39,"l":3,"x":0.292,"y":0.898},
{"c":40,"l":4,"x":0.251,"y":0.971},{"c":40,"l":4,"x":0.205,"y":0.988},{"c":40,"l":4,"x":0.144,"y":0.971},{"c":40,"l":4,"x":0.103,"y":0.906},{"c":40,"l":4,"x":0.093,"y":0.801},{"c":40,"l":4,"x":0.104,"y":0.687},{"c":40,"l":4,"x":0.142,"y":0.609},{"c":40,"l":4,"x":0.19,"y":0.635},{"c":40,"l":4,"x":0.234,"y":0.737},{"c":40,"l":4,"x":0.272,"y":0.882},
{"c":41,"l":5,"x":0.233,"y":0.938},{"c":41,"l":5,"x":0.198,"y":0.956},{"c":41,"l":5,"x":0.15,"y":0.938},{"c":41,"l":5,"x":0.118,"y":0.885},{"c":41,"l":5,"x":0.109,"y":0.802},{"c":41,"l":5,"x":0.118,"y":0.719},{"c":41,"l":5,"x":0.15,"y":0.66},{"c":41,"l":5,"x":0.192,"y":0.678},{"c":41,"l":5,"x":0.227,"y":0.755},{"c":41,"l":5,"x":0.251,"y":0.867},
{"c":42,"l":6,"x":0.216,"y":0.898},{"c":42,"l":6,"x":0.192,"y":0.91},{"c":42,"l":6,"x":0.16,"y":0.898},{"c":42,"l":6,"x":0.138,"y":0.862},{"c":42,"l":6,"x":0.132,"y":0.806},{"c":42,"l":6,"x":0.138,"y":0.75},{"c":42,"l":6,"x":0.16,"y":0.71},{"c":42,"l":6,"x":0.188,"y":0.722},{"c":42,"l":6,"x":0.212,"y":0.774},{"c":42,"l":6,"x":0.228,"y":0.85},
{"c":43,"l":7,"x":0.189,"y":0.835},{"c":43,"l":7,"x":0.183,"y":0.838},{"c":43,"l":7,"x":0.175,"y":0.835},{"c":43,"l":7,"x":0.169,"y":0.826},{"c":43,"l":7,"x":0.168,"y":0.812},{"c":43,"l":7,"x":0.169,"y":0.798},{"c":43,"l":7,"x":0.175,"y":0.788},{"c":43,"l":7,"x":0.182,"y":0.791},{"c":43,"l":7,"x":0.188,"y":0.804},{"c":43,"l":7,"x":0.192,"y":0.823},
{"c":44,"l":1,"x":0.395,"y":0.089},{"c":44,"l":1,"x":0.332,"y":0.14},{"c":44,"l":1,"x":0.287,"y":0.265},{"c":44,"l":1,"x":0.325,"y":0.498},{"c":44,"l":1,"x":0.395,"y":0.71},{"c":44,"l":1,"x":0.499,"y":0.858},{"c":44,"l":1,"x":0.585,"y":0.985},{"c":44,"l":1,"x":0.659,"y":1.127},{"c":44,"l":1,"x":0.737,"y":1.36},{"c":44,"l":1,"x":0.807,"y":1.519},{"c":44,"l":1,"x":0.876,"y":1.589},{"c":44,"l":1,"x":0.941,"y":1.466},{"c":44,"l":1,"x":0.96,"y":1.318},{"c":44,"l":1,"x":0.955,"y":1.17},{"c":44,"l":1,"x":0.945,"y":1.03},{"c":44,"l":1,"x":0.893,"y":0.932},{"c":44,"l":1,"x":0.824,"y":0.9},{"c":44,"l":1,"x":0.711,"y":0.858},{"c":44,"l":1,"x":0.633,"y":0.795},{"c":44,"l":1,"x":0.598,"y":0.625},{"c":44,"l":1,"x":0.564,"y":0.434},{"c":44,"l":1,"x":0.52,"y":0.16},{"c":44,"l":1,"x":0.473,"y":0.095},
{"c":45,"l":2,"x":0.412,"y":0.133},{"c":45,"l":2,"x":0.34,"y":0.2},{"c":45,"l":2,"x":0.321,"y":0.307},{"c":45,"l":2,"x":0.352,"y":0.48},{"c":45,"l":2,"x":0.41,"y":0.62},{"c":45,"l":2,"x":0.49,"y":0.74},{"c":45,"l":2,"x":0.568,"y":0.78},{"c":45,"l":2,"x":0.575,"y":0.64},{"c":45,"l":2,"x":0.551,"y":0.456},{"c":45,"l":2,"x":0.5,"y":0.22},
{"c":46,"l":3,"x":0.419,"y":0.177},{"c":46,"l":3,"x":0.361,"y":0.238},{"c":46,"l":3,"x":0.343,"y":0.341},{"c":46,"l":3,"x":0.37,"y":0.488},{"c":46,"l":3,"x":0.421,"y":0.606},{"c":46,"l":3,"x":0.487,"y":0.689},{"c":46,"l":3,"x":0.549,"y":0.695},{"c":46,"l":3,"x":0.558,"y":0.579},{"c":46,"l":3,"x":0.54,"y":0.43},{"c":46,"l":3,"x":0.495,"y":0.244},
{"c":47,"l":4,"x":0.425,"y":0.217},{"c":47,"l":4,"x":0.378,"y":0.271},{"c":47,"l":4,"x":0.363,"y":0.368},{"c":47,"l":4,"x":0.386,"y":0.492},{"c":47,"l":4,"x":0.429,"y":0.59},{"c":47,"l":4,"x":0.483,"y":0.642},{"c":47,"l":4,"x":0.531,"y":0.623},{"c":47,"l":4,"x":0.542,"y":0.53},{"c":47,"l":4,"x":0.529,"y":0.412},{"c":47,"l":4,"x":0.49,"y":0.268},
{"c":48,"l":5,"x":0.431,"y":0.258},{"c":48,"l":5,"x":0.396,"y":0.306},{"c":48,"l":5,"x":0.384,"y":0.394},{"c":48,"l":5,"x":0.402,"y":0.495},{"c":48,"l":5,"x":0.437,"y":0.572},{"c":48,"l":5,"x":0.479,"y":0.596},{"c":48,"l":5,"x":0.514,"y":0.554},{"c":48,"l":5,"x":0.526,"y":0.483},{"c":48,"l":5,"x":0.517,"y":0.394},{"c":48,"l":5,"x":0.485,"y":0.294},
{"c":49,"l":6,"x":0.439,"y":0.312},{"c":49,"l":6,"x":0.415,"y":0.344},{"c":49,"l":6,"x":0.407,"y":0.404},{"c":49,"l":6,"x":0.419,"y":0.472},{"c":49,"l":6,"x":0.443,"y":0.524},{"c":49,"l":6,"x":0.471,"y":0.54},{"c":49,"l":6,"x":0.495,"y":0.512},{"c":49,"l":6,"x":0.503,"y":0.464},{"c":49,"l":6,"x":0.497,"y":0.404},{"c":49,"l":6,"x":0.475,"y":0.336},
{"c":50,"l":7,"x":0.449,"y":0.379},{"c":50,"l":7,"x":0.439,"y":0.392},{"c":50,"l":7,"x":0.436,"y":0.416},{"c":50,"l":7,"x":0.441,"y":0.443},{"c":50,"l":7,"x":0.45,"y":0.464},{"c":50,"l":7,"x":0.461,"y":0.47},{"c":50,"l":7,"x":0.471,"y":0.459},{"c":50,"l":7,"x":0.474,"y":0.44},{"c":50,"l":7,"x":0.472,"y":0.416},{"c":50,"l":7,"x":0.463,"y":0.389},
{"c":51,"l":2,"x":0.711,"y":0.964},{"c":51,"l":2,"x":0.781,"y":0.949},{"c":51,"l":2,"x":0.867,"y":0.964},{"c":51,"l":2,"x":0.928,"y":1.05},{"c":51,"l":2,"x":0.94,"y":1.2},{"c":51,"l":2,"x":0.925,"y":1.38},{"c":51,"l":2,"x":0.876,"y":1.498},{"c":51,"l":2,"x":0.815,"y":1.455},{"c":51,"l":2,"x":0.755,"y":1.3},{"c":51,"l":2,"x":0.685,"y":1.085},
{"c":52,"l":3,"x":0.732,"y":0.999},{"c":52,"l":3,"x":0.789,"y":0.982},{"c":52,"l":3,"x":0.861,"y":0.999},{"c":52,"l":3,"x":0.912,"y":1.073},{"c":52,"l":3,"x":0.923,"y":1.2},{"c":52,"l":3,"x":0.91,"y":1.344},{"c":52,"l":3,"x":0.866,"y":1.44},{"c":52,"l":3,"x":0.811,"y":1.407},{"c":52,"l":3,"x":0.76,"y":1.28},{"c":52,"l":3,"x":0.708,"y":1.102},
{"c":53,"l":4,"x":0.749,"y":1.029},{"c":53,"l":4,"x":0.795,"y":1.012},{"c":53,"l":4,"x":0.856,"y":1.029},{"c":53,"l":4,"x":0.897,"y":1.094},{"c":53,"l":4,"x":0.907,"y":1.199},{"c":53,"l":4,"x":0.896,"y":1.313},{"c":53,"l":4,"x":0.858,"y":1.391},{"c":53,"l":4,"x":0.81,"y":1.365},{"c":53,"l":4,"x":0.766,"y":1.263},{"c":53,"l":4,"x":0.728,"y":1.118},
{"c":54,"l":5,"x":0.767,"y":1.062},{"c":54,"l":5,"x":0.802,"y":1.044},{"c":54,"l":5,"x":0.85,"y":1.062},{"c":54,"l":5,"x":0.882,"y":1.115},{"c":54,"l":5,"x":0.891,"y":1.198},{"c":54,"l":5,"x":0.882,"y":1.281},{"c":54,"l":5,"x":0.85,"y":1.34},{"c":54,"l":5,"x":0.808,"y":1.322},{"c":54,"l":5,"x":0.773,"y":1.245},{"c":54,"l":5,"x":0.749,"y":1.133},
{"c":55,"l":6,"x":0.784,"y":1.102},{"c":55,"l":6,"x":0.808,"y":1.09},{"c":55,"l":6,"x":0.84,"y":1.102},{"c":55,"l":6,"x":0.862,"y":1.138},{"c":55,"l":6,"x":0.868,"y":1.194},{"c":55,"l":6,"x":0.862,"y":1.25},{"c":55,"l":6,"x":0.84,"y":1.29},{"c":55,"l":6,"x":0.812,"y":1.278},{"c":55,"l":6,"x":0.788,"y":1.226},{"c":55,"l":6,"x":0.772,"y":1.15},
{"c":56,"l":7,"x":0.811,"y":1.165},{"c":56,"l":7,"x":0.817,"y":1.162},{"c":56,"l":7,"x":0.825,"y":1.165},{"c":56,"l":7,"x":0.831,"y":1.174},{"c":56,"l":7,"x":0.832,"y":1.188},{"c":56,"l":7,"x":0.831,"y":1.202},{"c":56,"l":7,"x":0.825,"y":1.212},{"c":56,"l":7,"x":0.818,"y":1.209},{"c":56,"l":7,"x":0.812,"y":1.196},{"c":56,"l":7,"x":0.808,"y":1.177}
]},
"layer":[
{"data":{"values":[{"x0":-0.28,"x1":2.464,"y0":3.629,"y1":3.635}]},"mark":{"type":"rect","fill":"#3a3a3a"},"encoding":{"x":{"field":"x0","type":"quantitative","axis":null,"scale":{"domain":[0,1],"range":[231,602.7],"nice":false,"zero":false}},"x2":{"field":"x1"},"y":{"field":"y0","type":"quantitative","axis":null,"scale":{"domain":[0,2],"range":[551.3,248],"nice":false,"zero":false}},"y2":{"field":"y1"}}},
{"data":{"values":[{"x0":-0.169,"x1":1.287,"y0":-0.257,"y1":2.132}]},"mark":{"type":"rect","fill":"#fff"},"encoding":{"x":{"field":"x0","type":"quantitative","axis":null,"scale":{"domain":[0,1],"range":[231,602.7],"nice":false,"zero":false}},"x2":{"field":"x1"},"y":{"field":"y0","type":"quantitative","axis":null,"scale":{"domain":[0,2],"range":[551.3,248],"nice":false,"zero":false}},"y2":{"field":"y1"}}},
{"data":{"values":[{"x0":0,"x1":1,"y0":0,"y1":2,"l":0}]},"mark":{"type":"rect"},"encoding":{"x":{"field":"x0","type":"quantitative","axis":null,"scale":{"domain":[0,1],"range":[231,602.7],"nice":false,"zero":false}},"x2":{"field":"x1"},"y":{"field":"y0","type":"quantitative","axis":null,"scale":{"domain":[0,2],"range":[551.3,248],"nice":false,"zero":false}},"y2":{"field":"y1"},"fill":{"field":"l","type":"ordinal","legend":null,"scale":{"domain":[0,1,2,3,4,5,6,7,8,9,10,11,12,13,14,15],"range":["#480d60","#49196b","#472d7b","#414487","#39568c","#31688e","#2a788e","#25858e","#1f958b","#22a884","#35b779","#54c568","#7ad151","#a5db36","#d2e21b","#f3e51e"]}}}},
{"data":{"name":"left"},"mark":{"type":"line","filled":true,"interpolate":"cardinal-closed","strokeWidth":0},"encoding":{"x":{"field":"x","type":"quantitative","axis":null,"scale":{"domain":[0,1],"range":[231,602.7],"nice":false,"zero":false}},"y":{"field":"y","type":"quantitative","axis":null,"scale":{"domain":[0,2],"range":[551.3,248],"nice":false,"zero":false}},"fill":{"field":"l","type":"ordinal","legend":null,"scale":{"domain":[0,1,2,3,4,5,6,7,8,9,10,11,12,13,14,15],"range":["#480d60","#49196b","#472d7b","#414487","#39568c","#31688e","#2a788e","#25858e","#1f958b","#22a884","#35b779","#54c568","#7ad151","#a5db36","#d2e21b","#f3e51e"]}},"detail":{"field":"c"},"order":{"value":null}}},
{"data":{"values":[{"x0":0,"x1":1,"y0":0,"y1":2}]},"mark":{"type":"rect","fill":null,"stroke":"#000","strokeWidth":1},"encoding":{"x":{"field":"x0","type":"quantitative","scale":{"domain":[0,1],"range":[231,602.7],"nice":false,"zero":false},"axis":{"orient":"bottom","offset":-168.7,"labelPadding":7,"values":[0,0.2,0.4,0.6,0.8,1],"format":".1f","zindex":1}},"x2":{"field":"x1"},"y":{"field":"y0","type":"quantitative","scale":{"domain":[0,2],"range":[551.3,248],"nice":false,"zero":false},"axis":{"orient":"left","offset":-231,"labelPadding":8.5,"values":[0,0.25,0.5,0.75,1,1.25,1.5,1.75,2],"format":".2f","zindex":1}},"y2":{"field":"y1"}}},
{"data":{"name":"colorbar"},"mark":{"type":"rect"},"encoding":{"x":{"field":"x0","type":"quantitative","axis":null,"scale":{"domain":[0,1],"range":[626,641.5],"nice":false,"zero":false}},"x2":{"field":"x1"},"y":{"field":"lo","type":"quantitative","axis":{"orient":"right","offset":-638.5,"labelPadding":6.5,"values":[0,0.3,0.6,0.9,1.2,1.5,1.8,2.1,2.4],"format":".1f","zindex":1},"scale":{"domain":[0,2.4],"range":[551.3,248],"nice":false,"zero":false}},"y2":{"field":"hi"},"fill":{"field":"l","type":"ordinal","legend":null,"scale":{"domain":[0,1,2,3,4,5,6,7,8,9,10,11,12,13,14,15],"range":["#480d60","#49196b","#472d7b","#414487","#39568c","#31688e","#2a788e","#25858e","#1f958b","#22a884","#35b779","#54c568","#7ad151","#a5db36","#d2e21b","#f3e51e"]}}}},
{"data":{"values":[{"x0":0,"x1":1,"y0":0,"y1":2.4}]},"mark":{"type":"rect","fill":null,"stroke":"#000","strokeWidth":1},"encoding":{"x":{"field":"x0","type":"quantitative","axis":null,"scale":{"domain":[0,1],"range":[626,641.5],"nice":false,"zero":false}},"x2":{"field":"x1"},"y":{"field":"y0","type":"quantitative","axis":null,"scale":{"domain":[0,2.4],"range":[551.3,248],"nice":false,"zero":false}},"y2":{"field":"y1"}}},
{"data":{"values":[{"x0":1.056,"x1":1.0775,"y0":-1.904,"y1":2.682}]},"mark":{"type":"rect","fill":"#222"},"encoding":{"x":{"field":"x0","type":"quantitative","axis":null,"scale":{"domain":[0,1],"range":[740.7,1125],"nice":false,"zero":false}},"x2":{"field":"x1"},"y":{"field":"y0","type":"quantitative","axis":null,"scale":{"domain":[0,2],"range":[421,106.5],"nice":false,"zero":false}},"y2":{"field":"y1"}}},
{"data":{"values":[{"x0":1.056,"x1":1.0775,"y0":2,"y1":2.121},{"x0":1.056,"x1":1.0775,"y0":-0.266,"y1":0}]},"mark":{"type":"rect","fill":"#666"},"encoding":{"x":{"field":"x0","type":"quantitative","axis":null,"scale":{"domain":[0,1],"range":[740.7,1125],"nice":false,"zero":false}},"x2":{"field":"x1"},"y":{"field":"y0","type":"quantitative","axis":null,"scale":{"domain":[0,2],"range":[421,106.5],"nice":false,"zero":false}},"y2":{"field":"y1"}}},
{"data":{"values":[{"x0":-0.171,"x1":1.056,"y0":-0.266,"y1":2.121}]},"mark":{"type":"rect","fill":"#fff"},"encoding":{"x":{"field":"x0","type":"quantitative","axis":null,"scale":{"domain":[0,1],"range":[740.7,1125],"nice":false,"zero":false}},"x2":{"field":"x1"},"y":{"field":"y0","type":"quantitative","axis":null,"scale":{"domain":[0,2],"range":[421,106.5],"nice":false,"zero":false}},"y2":{"field":"y1"}}},
{"data":{"values":[{"x0":0,"x1":1,"y0":0,"y1":2,"l":0}]},"mark":{"type":"rect"},"encoding":{"x":{"field":"x0","type":"quantitative","axis":null,"scale":{"domain":[0,1],"range":[740.7,1125],"nice":false,"zero":false}},"x2":{"field":"x1"},"y":{"field":"y0","type":"quantitative","axis":null,"scale":{"domain":[0,2],"range":[421,106.5],"nice":false,"zero":false}},"y2":{"field":"y1"},"fill":{"field":"l","type":"ordinal","legend":null,"scale":{"domain":[0,1,2,3,4,5,6,7,8,9,10,11,12,13,14,15],"range":["#480d60","#49196b","#472d7b","#414487","#39568c","#31688e","#2a788e","#25858e","#1f958b","#22a884","#35b779","#54c568","#7ad151","#a5db36","#d2e21b","#f3e51e"]}}}},
{"data":{"name":"right"},"mark":{"type":"line","filled":true,"interpolate":"cardinal-closed","strokeWidth":0},"encoding":{"x":{"field":"x","type":"quantitative","axis":null,"scale":{"domain":[0,1],"range":[740.7,1125],"nice":false,"zero":false}},"y":{"field":"y","type":"quantitative","axis":null,"scale":{"domain":[0,2],"range":[421,106.5],"nice":false,"zero":false}},"fill":{"field":"l","type":"ordinal","legend":null,"scale":{"domain":[0,1,2,3,4,5,6,7,8,9,10,11,12,13,14,15],"range":["#480d60","#49196b","#472d7b","#414487","#39568c","#31688e","#2a788e","#25858e","#1f958b","#22a884","#35b779","#54c568","#7ad151","#a5db36","#d2e21b","#f3e51e"]}},"detail":{"field":"c"},"order":{"value":null}}},
{"data":{"values":[{"x0":0,"x1":1,"y0":0,"y1":2}]},"mark":{"type":"rect","fill":null,"stroke":"#000","strokeWidth":1},"encoding":{"x":{"field":"x0","type":"quantitative","scale":{"domain":[0,1],"range":[740.7,1125],"nice":false,"zero":false},"axis":{"orient":"bottom","offset":-299,"labelPadding":7,"values":[0,0.2,0.4,0.6,0.8,1],"format":".1f","zindex":1}},"x2":{"field":"x1"},"y":{"field":"y0","type":"quantitative","scale":{"domain":[0,2],"range":[421,106.5],"nice":false,"zero":false},"axis":{"orient":"left","offset":-740.7,"labelPadding":8.5,"values":[0,0.25,0.5,0.75,1,1.25,1.5,1.75,2],"format":".2f","zindex":1}},"y2":{"field":"y1"}}},
{"data":{"values":[{"t":"2D QUANTUM","x":-0.077,"y":2.796},{"t":"MECHANICS","x":-0.077,"y":2.301}]},"mark":{"type":"text","font":"Liberation Sans","fontSize":68,"fill":"#fdee60","align":"left","baseline":"alphabetic"},"encoding":{"text":{"field":"t"},"x":{"field":"x","type":"quantitative","axis":null,"scale":{"domain":[0,1],"range":[231,602.7],"nice":false,"zero":false}},"y":{"field":"y","type":"quantitative","axis":null,"scale":{"domain":[0,2],"range":[551.3,248],"nice":false,"zero":false}}}},
{"data":{"values":[{"t":"PYTHON SOLUTION","x":0.226,"y":-0.816}]},"mark":{"type":"text","font":"Liberation Sans","fontSize":75.5,"fill":"#fb9ccf","align":"left","baseline":"alphabetic"},"encoding":{"text":{"field":"t"},"x":{"field":"x","type":"quantitative","axis":null,"scale":{"domain":[0,1],"range":[231,602.7],"nice":false,"zero":false}},"y":{"field":"y","type":"quantitative","axis":null,"scale":{"domain":[0,2],"range":[551.3,248],"nice":false,"zero":false}}}}
]}
